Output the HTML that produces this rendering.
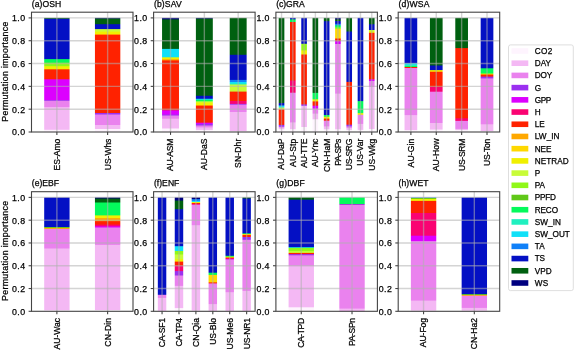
<!DOCTYPE html>
<html><head><meta charset="utf-8"><title>Permutation importance</title>
<style>
html,body{margin:0;padding:0;background:#fff;}
body{width:575px;height:350px;overflow:hidden;}
svg{display:block;will-change:transform;}
.t{font-family:"Liberation Sans", sans-serif;font-size:8.8px;fill:#000;stroke:#000;stroke-width:0.25px;}
</style></head><body>
<svg width="575" height="350" viewBox="0 0 575 350">
<defs><linearGradient id="g0_0_0" gradientUnits="userSpaceOnUse" x1="0" y1="17.9" x2="0" y2="132"><stop offset="0.0000" stop-color="#006010"/><stop offset="0.0035" stop-color="#006010"/><stop offset="0.0123" stop-color="#0410c4"/><stop offset="0.3567" stop-color="#0410c4"/><stop offset="0.3655" stop-color="#04fa5c"/><stop offset="0.3883" stop-color="#04fa5c"/><stop offset="0.3970" stop-color="#90f818"/><stop offset="0.4189" stop-color="#90f818"/><stop offset="0.4277" stop-color="#f0f000"/><stop offset="0.4461" stop-color="#f0f000"/><stop offset="0.4549" stop-color="#ff2200"/><stop offset="0.5337" stop-color="#ff2200"/><stop offset="0.5425" stop-color="#dc00ff"/><stop offset="0.7152" stop-color="#dc00ff"/><stop offset="0.7222" stop-color="#9b30f0"/><stop offset="0.7222" stop-color="#9b30f0"/><stop offset="0.7292" stop-color="#ea82ee"/><stop offset="0.7774" stop-color="#ea82ee"/><stop offset="0.7862" stop-color="#f4b8f4"/><stop offset="0.9763" stop-color="#f4b8f4"/><stop offset="0.9851" stop-color="#fef4fe"/><stop offset="1.0000" stop-color="#fef4fe"/></linearGradient>
<linearGradient id="g0_0_1" gradientUnits="userSpaceOnUse" x1="0" y1="17.9" x2="0" y2="132"><stop offset="0.0000" stop-color="#000080"/><stop offset="0.0009" stop-color="#000080"/><stop offset="0.0096" stop-color="#006010"/><stop offset="0.0508" stop-color="#006010"/><stop offset="0.0596" stop-color="#0410c4"/><stop offset="0.0938" stop-color="#0410c4"/><stop offset="0.1025" stop-color="#c8fc38"/><stop offset="0.1157" stop-color="#c8fc38"/><stop offset="0.1245" stop-color="#f0f000"/><stop offset="0.1367" stop-color="#f0f000"/><stop offset="0.1446" stop-color="#ffa800"/><stop offset="0.1446" stop-color="#ffa800"/><stop offset="0.1525" stop-color="#ff2200"/><stop offset="0.8291" stop-color="#ff2200"/><stop offset="0.8379" stop-color="#9b30f0"/><stop offset="0.8422" stop-color="#9b30f0"/><stop offset="0.8510" stop-color="#ea82ee"/><stop offset="0.9343" stop-color="#ea82ee"/><stop offset="0.9430" stop-color="#f4b8f4"/><stop offset="0.9693" stop-color="#f4b8f4"/><stop offset="0.9781" stop-color="#fef4fe"/><stop offset="1.0000" stop-color="#fef4fe"/></linearGradient>
<linearGradient id="g0_1_0" gradientUnits="userSpaceOnUse" x1="0" y1="17.9" x2="0" y2="132"><stop offset="0.0000" stop-color="#000080"/><stop offset="0.0088" stop-color="#000080"/><stop offset="0.0175" stop-color="#006010"/><stop offset="0.2673" stop-color="#006010"/><stop offset="0.2761" stop-color="#10e0f8"/><stop offset="0.3409" stop-color="#10e0f8"/><stop offset="0.3497" stop-color="#f0f000"/><stop offset="0.3576" stop-color="#f0f000"/><stop offset="0.3663" stop-color="#ffa800"/><stop offset="0.3681" stop-color="#ffa800"/><stop offset="0.3769" stop-color="#ff2200"/><stop offset="0.8054" stop-color="#ff2200"/><stop offset="0.8142" stop-color="#dc00ff"/><stop offset="0.8431" stop-color="#dc00ff"/><stop offset="0.8514" stop-color="#9b30f0"/><stop offset="0.8514" stop-color="#9b30f0"/><stop offset="0.8598" stop-color="#ea82ee"/><stop offset="0.8791" stop-color="#ea82ee"/><stop offset="0.8878" stop-color="#f4b8f4"/><stop offset="0.9649" stop-color="#f4b8f4"/><stop offset="0.9737" stop-color="#fef4fe"/><stop offset="1.0000" stop-color="#fef4fe"/></linearGradient>
<linearGradient id="g0_1_1" gradientUnits="userSpaceOnUse" x1="0" y1="17.9" x2="0" y2="132"><stop offset="0.0000" stop-color="#000080"/><stop offset="0.0018" stop-color="#000080"/><stop offset="0.0105" stop-color="#006010"/><stop offset="0.6784" stop-color="#006010"/><stop offset="0.6871" stop-color="#0410c4"/><stop offset="0.7046" stop-color="#0410c4"/><stop offset="0.7130" stop-color="#10e0f8"/><stop offset="0.7130" stop-color="#10e0f8"/><stop offset="0.7213" stop-color="#04fa5c"/><stop offset="0.7266" stop-color="#04fa5c"/><stop offset="0.7353" stop-color="#c8fc38"/><stop offset="0.7371" stop-color="#c8fc38"/><stop offset="0.7458" stop-color="#f0f000"/><stop offset="0.7599" stop-color="#f0f000"/><stop offset="0.7664" stop-color="#ffa800"/><stop offset="0.7664" stop-color="#ffa800"/><stop offset="0.7730" stop-color="#ff2200"/><stop offset="0.9141" stop-color="#ff2200"/><stop offset="0.9229" stop-color="#dc00ff"/><stop offset="0.9246" stop-color="#dc00ff"/><stop offset="0.9334" stop-color="#9b30f0"/><stop offset="0.9387" stop-color="#9b30f0"/><stop offset="0.9474" stop-color="#ea82ee"/><stop offset="0.9553" stop-color="#ea82ee"/><stop offset="0.9641" stop-color="#f4b8f4"/><stop offset="0.9772" stop-color="#f4b8f4"/><stop offset="0.9860" stop-color="#fef4fe"/><stop offset="1.0000" stop-color="#fef4fe"/></linearGradient>
<linearGradient id="g0_1_2" gradientUnits="userSpaceOnUse" x1="0" y1="17.9" x2="0" y2="132"><stop offset="0.0000" stop-color="#006010"/><stop offset="0.3190" stop-color="#006010"/><stop offset="0.3278" stop-color="#0410c4"/><stop offset="0.5390" stop-color="#0410c4"/><stop offset="0.5478" stop-color="#1080f8"/><stop offset="0.5574" stop-color="#1080f8"/><stop offset="0.5662" stop-color="#10e0f8"/><stop offset="0.5706" stop-color="#10e0f8"/><stop offset="0.5793" stop-color="#20f0c0"/><stop offset="0.5793" stop-color="#20f0c0"/><stop offset="0.5881" stop-color="#c8fc38"/><stop offset="0.6415" stop-color="#c8fc38"/><stop offset="0.6503" stop-color="#ff2200"/><stop offset="0.7239" stop-color="#ff2200"/><stop offset="0.7327" stop-color="#fa0372"/><stop offset="0.7493" stop-color="#fa0372"/><stop offset="0.7564" stop-color="#9b30f0"/><stop offset="0.7564" stop-color="#9b30f0"/><stop offset="0.7634" stop-color="#ea82ee"/><stop offset="0.8203" stop-color="#ea82ee"/><stop offset="0.8291" stop-color="#f4b8f4"/><stop offset="0.9869" stop-color="#f4b8f4"/><stop offset="0.9956" stop-color="#fef4fe"/><stop offset="1.0000" stop-color="#fef4fe"/></linearGradient>
<linearGradient id="g0_2_0" gradientUnits="userSpaceOnUse" x1="0" y1="17.9" x2="0" y2="132"><stop offset="0.0000" stop-color="#006010"/><stop offset="0.7423" stop-color="#006010"/><stop offset="0.7511" stop-color="#0410c4"/><stop offset="0.7634" stop-color="#0410c4"/><stop offset="0.7721" stop-color="#10e0f8"/><stop offset="0.7809" stop-color="#10e0f8"/><stop offset="0.7897" stop-color="#c8fc38"/><stop offset="0.7967" stop-color="#c8fc38"/><stop offset="0.8054" stop-color="#ff2200"/><stop offset="0.9334" stop-color="#ff2200"/><stop offset="0.9422" stop-color="#9b30f0"/><stop offset="0.9492" stop-color="#9b30f0"/><stop offset="0.9575" stop-color="#ea82ee"/><stop offset="0.9575" stop-color="#ea82ee"/><stop offset="0.9658" stop-color="#f4b8f4"/><stop offset="0.9711" stop-color="#f4b8f4"/><stop offset="0.9798" stop-color="#fef4fe"/><stop offset="1.0000" stop-color="#fef4fe"/></linearGradient>
<linearGradient id="g0_2_1" gradientUnits="userSpaceOnUse" x1="0" y1="17.9" x2="0" y2="132"><stop offset="0.0000" stop-color="#0410c4"/><stop offset="0.0088" stop-color="#0410c4"/><stop offset="0.0175" stop-color="#04fa5c"/><stop offset="0.0316" stop-color="#04fa5c"/><stop offset="0.0403" stop-color="#ff2200"/><stop offset="0.5443" stop-color="#ff2200"/><stop offset="0.5530" stop-color="#fa0372"/><stop offset="0.6512" stop-color="#fa0372"/><stop offset="0.6599" stop-color="#ea82ee"/><stop offset="0.9115" stop-color="#ea82ee"/><stop offset="0.9202" stop-color="#f4b8f4"/><stop offset="0.9711" stop-color="#f4b8f4"/><stop offset="0.9798" stop-color="#fef4fe"/><stop offset="1.0000" stop-color="#fef4fe"/></linearGradient>
<linearGradient id="g0_2_2" gradientUnits="userSpaceOnUse" x1="0" y1="17.9" x2="0" y2="132"><stop offset="0.0000" stop-color="#0410c4"/><stop offset="0.2226" stop-color="#0410c4"/><stop offset="0.2314" stop-color="#90f818"/><stop offset="0.2805" stop-color="#90f818"/><stop offset="0.2892" stop-color="#f0f000"/><stop offset="0.3164" stop-color="#f0f000"/><stop offset="0.3252" stop-color="#ff2200"/><stop offset="0.7537" stop-color="#ff2200"/><stop offset="0.7625" stop-color="#9b30f0"/><stop offset="0.7660" stop-color="#9b30f0"/><stop offset="0.7748" stop-color="#f4b8f4"/><stop offset="0.9518" stop-color="#f4b8f4"/><stop offset="0.9606" stop-color="#fef4fe"/><stop offset="1.0000" stop-color="#fef4fe"/></linearGradient>
<linearGradient id="g0_2_3" gradientUnits="userSpaceOnUse" x1="0" y1="17.9" x2="0" y2="132"><stop offset="0.0000" stop-color="#006010"/><stop offset="0.6529" stop-color="#006010"/><stop offset="0.6617" stop-color="#04fa5c"/><stop offset="0.7090" stop-color="#04fa5c"/><stop offset="0.7178" stop-color="#f0f000"/><stop offset="0.7274" stop-color="#f0f000"/><stop offset="0.7362" stop-color="#ff2200"/><stop offset="0.7651" stop-color="#ff2200"/><stop offset="0.7739" stop-color="#dc00ff"/><stop offset="0.7905" stop-color="#dc00ff"/><stop offset="0.7993" stop-color="#ea82ee"/><stop offset="0.8344" stop-color="#ea82ee"/><stop offset="0.8431" stop-color="#f4b8f4"/><stop offset="0.8843" stop-color="#f4b8f4"/><stop offset="0.8931" stop-color="#fef4fe"/><stop offset="1.0000" stop-color="#fef4fe"/></linearGradient>
<linearGradient id="g0_2_4" gradientUnits="userSpaceOnUse" x1="0" y1="17.9" x2="0" y2="132"><stop offset="0.0000" stop-color="#006010"/><stop offset="0.0245" stop-color="#006010"/><stop offset="0.0333" stop-color="#0410c4"/><stop offset="0.8466" stop-color="#0410c4"/><stop offset="0.8554" stop-color="#04fa5c"/><stop offset="0.8615" stop-color="#04fa5c"/><stop offset="0.8703" stop-color="#f0f000"/><stop offset="0.8782" stop-color="#f0f000"/><stop offset="0.8869" stop-color="#ff2200"/><stop offset="0.8966" stop-color="#ff2200"/><stop offset="0.9053" stop-color="#ea82ee"/><stop offset="0.9465" stop-color="#ea82ee"/><stop offset="0.9553" stop-color="#f4b8f4"/><stop offset="0.9720" stop-color="#f4b8f4"/><stop offset="0.9807" stop-color="#fef4fe"/><stop offset="1.0000" stop-color="#fef4fe"/></linearGradient>
<linearGradient id="g0_2_5" gradientUnits="userSpaceOnUse" x1="0" y1="17.9" x2="0" y2="132"><stop offset="0.0000" stop-color="#000080"/><stop offset="0.0088" stop-color="#000080"/><stop offset="0.0175" stop-color="#006010"/><stop offset="0.0228" stop-color="#006010"/><stop offset="0.0316" stop-color="#0410c4"/><stop offset="0.0473" stop-color="#0410c4"/><stop offset="0.0561" stop-color="#1080f8"/><stop offset="0.0605" stop-color="#1080f8"/><stop offset="0.0692" stop-color="#04fa5c"/><stop offset="0.0789" stop-color="#04fa5c"/><stop offset="0.0876" stop-color="#90f818"/><stop offset="0.0929" stop-color="#90f818"/><stop offset="0.1017" stop-color="#ffd800"/><stop offset="0.1762" stop-color="#ffd800"/><stop offset="0.1849" stop-color="#ff2200"/><stop offset="0.1989" stop-color="#ff2200"/><stop offset="0.2077" stop-color="#dc00ff"/><stop offset="0.2244" stop-color="#dc00ff"/><stop offset="0.2331" stop-color="#ea82ee"/><stop offset="0.6591" stop-color="#ea82ee"/><stop offset="0.6678" stop-color="#f4b8f4"/><stop offset="0.9720" stop-color="#f4b8f4"/><stop offset="0.9807" stop-color="#fef4fe"/><stop offset="1.0000" stop-color="#fef4fe"/></linearGradient>
<linearGradient id="g0_2_6" gradientUnits="userSpaceOnUse" x1="0" y1="17.9" x2="0" y2="132"><stop offset="0.0000" stop-color="#006010"/><stop offset="0.1148" stop-color="#006010"/><stop offset="0.1236" stop-color="#0410c4"/><stop offset="0.5565" stop-color="#0410c4"/><stop offset="0.5653" stop-color="#ff2200"/><stop offset="0.9316" stop-color="#ff2200"/><stop offset="0.9404" stop-color="#9b30f0"/><stop offset="0.9465" stop-color="#9b30f0"/><stop offset="0.9553" stop-color="#ea82ee"/><stop offset="0.9606" stop-color="#ea82ee"/><stop offset="0.9693" stop-color="#f4b8f4"/><stop offset="0.9772" stop-color="#f4b8f4"/><stop offset="0.9860" stop-color="#fef4fe"/><stop offset="1.0000" stop-color="#fef4fe"/></linearGradient>
<linearGradient id="g0_2_7" gradientUnits="userSpaceOnUse" x1="0" y1="17.9" x2="0" y2="132"><stop offset="0.0000" stop-color="#0410c4"/><stop offset="0.7248" stop-color="#0410c4"/><stop offset="0.7336" stop-color="#04fa5c"/><stop offset="0.8300" stop-color="#04fa5c"/><stop offset="0.8387" stop-color="#f0f000"/><stop offset="0.8449" stop-color="#f0f000"/><stop offset="0.8536" stop-color="#ea82ee"/><stop offset="0.9246" stop-color="#ea82ee"/><stop offset="0.9334" stop-color="#f4b8f4"/><stop offset="0.9772" stop-color="#f4b8f4"/><stop offset="0.9860" stop-color="#fef4fe"/><stop offset="1.0000" stop-color="#fef4fe"/></linearGradient>
<linearGradient id="g0_2_8" gradientUnits="userSpaceOnUse" x1="0" y1="17.9" x2="0" y2="132"><stop offset="0.0000" stop-color="#006010"/><stop offset="0.0517" stop-color="#006010"/><stop offset="0.0605" stop-color="#0410c4"/><stop offset="0.1017" stop-color="#0410c4"/><stop offset="0.1104" stop-color="#c8fc38"/><stop offset="0.1139" stop-color="#c8fc38"/><stop offset="0.1227" stop-color="#f0f000"/><stop offset="0.1262" stop-color="#f0f000"/><stop offset="0.1350" stop-color="#ff2200"/><stop offset="0.5337" stop-color="#ff2200"/><stop offset="0.5425" stop-color="#dc00ff"/><stop offset="0.5486" stop-color="#dc00ff"/><stop offset="0.5574" stop-color="#ea82ee"/><stop offset="0.6012" stop-color="#ea82ee"/><stop offset="0.6100" stop-color="#f4b8f4"/><stop offset="0.9693" stop-color="#f4b8f4"/><stop offset="0.9781" stop-color="#fef4fe"/><stop offset="1.0000" stop-color="#fef4fe"/></linearGradient>
<linearGradient id="g0_3_0" gradientUnits="userSpaceOnUse" x1="0" y1="17.9" x2="0" y2="132"><stop offset="0.0000" stop-color="#0410c4"/><stop offset="0.3926" stop-color="#0410c4"/><stop offset="0.4014" stop-color="#10e0f8"/><stop offset="0.4067" stop-color="#10e0f8"/><stop offset="0.4154" stop-color="#20f0c0"/><stop offset="0.4172" stop-color="#20f0c0"/><stop offset="0.4259" stop-color="#04fa5c"/><stop offset="0.4259" stop-color="#04fa5c"/><stop offset="0.4347" stop-color="#ff2200"/><stop offset="0.4347" stop-color="#ff2200"/><stop offset="0.4435" stop-color="#ea82ee"/><stop offset="0.8475" stop-color="#ea82ee"/><stop offset="0.8563" stop-color="#f4b8f4"/><stop offset="0.9790" stop-color="#f4b8f4"/><stop offset="0.9877" stop-color="#fef4fe"/><stop offset="1.0000" stop-color="#fef4fe"/></linearGradient>
<linearGradient id="g0_3_1" gradientUnits="userSpaceOnUse" x1="0" y1="17.9" x2="0" y2="132"><stop offset="0.0000" stop-color="#006010"/><stop offset="0.4128" stop-color="#006010"/><stop offset="0.4216" stop-color="#0410c4"/><stop offset="0.4531" stop-color="#0410c4"/><stop offset="0.4619" stop-color="#f0f000"/><stop offset="0.4636" stop-color="#f0f000"/><stop offset="0.4711" stop-color="#ffa800"/><stop offset="0.4711" stop-color="#ffa800"/><stop offset="0.4785" stop-color="#ff2200"/><stop offset="0.6004" stop-color="#ff2200"/><stop offset="0.6091" stop-color="#fa0372"/><stop offset="0.6424" stop-color="#fa0372"/><stop offset="0.6512" stop-color="#ea82ee"/><stop offset="0.9167" stop-color="#ea82ee"/><stop offset="0.9255" stop-color="#f4b8f4"/><stop offset="0.9746" stop-color="#f4b8f4"/><stop offset="0.9833" stop-color="#fef4fe"/><stop offset="1.0000" stop-color="#fef4fe"/></linearGradient>
<linearGradient id="g0_3_2" gradientUnits="userSpaceOnUse" x1="0" y1="17.9" x2="0" y2="132"><stop offset="0.0000" stop-color="#006010"/><stop offset="0.2603" stop-color="#006010"/><stop offset="0.2691" stop-color="#ff2200"/><stop offset="0.8755" stop-color="#ff2200"/><stop offset="0.8843" stop-color="#fa0372"/><stop offset="0.8983" stop-color="#fa0372"/><stop offset="0.9071" stop-color="#ea82ee"/><stop offset="0.9684" stop-color="#ea82ee"/><stop offset="0.9772" stop-color="#f4b8f4"/><stop offset="0.9781" stop-color="#f4b8f4"/><stop offset="0.9869" stop-color="#fef4fe"/><stop offset="1.0000" stop-color="#fef4fe"/></linearGradient>
<linearGradient id="g0_3_3" gradientUnits="userSpaceOnUse" x1="0" y1="17.9" x2="0" y2="132"><stop offset="0.0000" stop-color="#0410c4"/><stop offset="0.4373" stop-color="#0410c4"/><stop offset="0.4461" stop-color="#04fa5c"/><stop offset="0.4838" stop-color="#04fa5c"/><stop offset="0.4921" stop-color="#f0f000"/><stop offset="0.4921" stop-color="#f0f000"/><stop offset="0.5004" stop-color="#ff2200"/><stop offset="0.5101" stop-color="#ff2200"/><stop offset="0.5188" stop-color="#9b30f0"/><stop offset="0.5259" stop-color="#9b30f0"/><stop offset="0.5346" stop-color="#ea82ee"/><stop offset="0.9281" stop-color="#ea82ee"/><stop offset="0.9369" stop-color="#f4b8f4"/><stop offset="0.9869" stop-color="#f4b8f4"/><stop offset="0.9956" stop-color="#fef4fe"/><stop offset="1.0000" stop-color="#fef4fe"/></linearGradient>
<linearGradient id="g1_0_0" gradientUnits="userSpaceOnUse" x1="0" y1="197.4" x2="0" y2="311.3"><stop offset="0.0000" stop-color="#0410c4"/><stop offset="0.2555" stop-color="#0410c4"/><stop offset="0.2638" stop-color="#60c818"/><stop offset="0.2638" stop-color="#60c818"/><stop offset="0.2722" stop-color="#ffa800"/><stop offset="0.2722" stop-color="#ffa800"/><stop offset="0.2809" stop-color="#ea82ee"/><stop offset="0.4442" stop-color="#ea82ee"/><stop offset="0.4530" stop-color="#f4b8f4"/><stop offset="0.9860" stop-color="#f4b8f4"/><stop offset="0.9947" stop-color="#fef4fe"/><stop offset="1.0000" stop-color="#fef4fe"/></linearGradient>
<linearGradient id="g1_0_1" gradientUnits="userSpaceOnUse" x1="0" y1="197.4" x2="0" y2="311.3"><stop offset="0.0000" stop-color="#000080"/><stop offset="0.0053" stop-color="#000080"/><stop offset="0.0140" stop-color="#006010"/><stop offset="0.0404" stop-color="#006010"/><stop offset="0.0492" stop-color="#04fa5c"/><stop offset="0.1536" stop-color="#04fa5c"/><stop offset="0.1624" stop-color="#f0f000"/><stop offset="0.1773" stop-color="#f0f000"/><stop offset="0.1861" stop-color="#ffa800"/><stop offset="0.2046" stop-color="#ffa800"/><stop offset="0.2133" stop-color="#ff2200"/><stop offset="0.2344" stop-color="#ff2200"/><stop offset="0.2432" stop-color="#fa0372"/><stop offset="0.2493" stop-color="#fa0372"/><stop offset="0.2581" stop-color="#dc00ff"/><stop offset="0.2599" stop-color="#dc00ff"/><stop offset="0.2687" stop-color="#ea82ee"/><stop offset="0.4126" stop-color="#ea82ee"/><stop offset="0.4214" stop-color="#f4b8f4"/><stop offset="0.9842" stop-color="#f4b8f4"/><stop offset="0.9930" stop-color="#fef4fe"/><stop offset="1.0000" stop-color="#fef4fe"/></linearGradient>
<linearGradient id="g1_1_0" gradientUnits="userSpaceOnUse" x1="0" y1="197.4" x2="0" y2="311.3"><stop offset="0.0000" stop-color="#0410c4"/><stop offset="0.8507" stop-color="#0410c4"/><stop offset="0.8595" stop-color="#ea82ee"/><stop offset="0.8780" stop-color="#ea82ee"/><stop offset="0.8867" stop-color="#f4b8f4"/><stop offset="0.9912" stop-color="#f4b8f4"/><stop offset="1.0000" stop-color="#fef4fe"/><stop offset="1.0000" stop-color="#fef4fe"/></linearGradient>
<linearGradient id="g1_1_1" gradientUnits="userSpaceOnUse" x1="0" y1="197.4" x2="0" y2="311.3"><stop offset="0.0000" stop-color="#000080"/><stop offset="0.0237" stop-color="#000080"/><stop offset="0.0325" stop-color="#006010"/><stop offset="0.0992" stop-color="#006010"/><stop offset="0.1080" stop-color="#0410c4"/><stop offset="0.4241" stop-color="#0410c4"/><stop offset="0.4328" stop-color="#10e0f8"/><stop offset="0.4662" stop-color="#10e0f8"/><stop offset="0.4750" stop-color="#90f818"/><stop offset="0.4969" stop-color="#90f818"/><stop offset="0.5057" stop-color="#c8fc38"/><stop offset="0.5391" stop-color="#c8fc38"/><stop offset="0.5478" stop-color="#f0f000"/><stop offset="0.5593" stop-color="#f0f000"/><stop offset="0.5680" stop-color="#ff2200"/><stop offset="0.5979" stop-color="#ff2200"/><stop offset="0.6067" stop-color="#fa0372"/><stop offset="0.6427" stop-color="#fa0372"/><stop offset="0.6514" stop-color="#9b30f0"/><stop offset="0.6813" stop-color="#9b30f0"/><stop offset="0.6901" stop-color="#ea82ee"/><stop offset="0.7726" stop-color="#ea82ee"/><stop offset="0.7814" stop-color="#f4b8f4"/><stop offset="0.9675" stop-color="#f4b8f4"/><stop offset="0.9763" stop-color="#fef4fe"/><stop offset="1.0000" stop-color="#fef4fe"/></linearGradient>
<linearGradient id="g1_1_2" gradientUnits="userSpaceOnUse" x1="0" y1="197.4" x2="0" y2="311.3"><stop offset="0.0000" stop-color="#000080"/><stop offset="0.0105" stop-color="#000080"/><stop offset="0.0193" stop-color="#1080f8"/><stop offset="0.0263" stop-color="#1080f8"/><stop offset="0.0351" stop-color="#10e0f8"/><stop offset="0.0360" stop-color="#10e0f8"/><stop offset="0.0448" stop-color="#f0f000"/><stop offset="0.0448" stop-color="#f0f000"/><stop offset="0.0531" stop-color="#ff2200"/><stop offset="0.0531" stop-color="#ff2200"/><stop offset="0.0601" stop-color="#fa0372"/><stop offset="0.0601" stop-color="#fa0372"/><stop offset="0.0676" stop-color="#ea82ee"/><stop offset="0.2397" stop-color="#ea82ee"/><stop offset="0.2485" stop-color="#f4b8f4"/><stop offset="0.9886" stop-color="#f4b8f4"/><stop offset="0.9974" stop-color="#fef4fe"/><stop offset="1.0000" stop-color="#fef4fe"/></linearGradient>
<linearGradient id="g1_1_3" gradientUnits="userSpaceOnUse" x1="0" y1="197.4" x2="0" y2="311.3"><stop offset="0.0000" stop-color="#0410c4"/><stop offset="0.6567" stop-color="#0410c4"/><stop offset="0.6655" stop-color="#04fa5c"/><stop offset="0.6760" stop-color="#04fa5c"/><stop offset="0.6848" stop-color="#ffd800"/><stop offset="0.7419" stop-color="#ffd800"/><stop offset="0.7507" stop-color="#ff2200"/><stop offset="0.7507" stop-color="#ff2200"/><stop offset="0.7594" stop-color="#ea82ee"/><stop offset="0.9324" stop-color="#ea82ee"/><stop offset="0.9412" stop-color="#f4b8f4"/><stop offset="0.9912" stop-color="#f4b8f4"/><stop offset="1.0000" stop-color="#fef4fe"/><stop offset="1.0000" stop-color="#fef4fe"/></linearGradient>
<linearGradient id="g1_1_4" gradientUnits="userSpaceOnUse" x1="0" y1="197.4" x2="0" y2="311.3"><stop offset="0.0000" stop-color="#0410c4"/><stop offset="0.5083" stop-color="#0410c4"/><stop offset="0.5167" stop-color="#04fa5c"/><stop offset="0.5167" stop-color="#04fa5c"/><stop offset="0.5241" stop-color="#f0f000"/><stop offset="0.5241" stop-color="#f0f000"/><stop offset="0.5320" stop-color="#ff2200"/><stop offset="0.5338" stop-color="#ff2200"/><stop offset="0.5413" stop-color="#dc00ff"/><stop offset="0.5413" stop-color="#dc00ff"/><stop offset="0.5487" stop-color="#ea82ee"/><stop offset="0.8279" stop-color="#ea82ee"/><stop offset="0.8367" stop-color="#f4b8f4"/><stop offset="0.9912" stop-color="#f4b8f4"/><stop offset="1.0000" stop-color="#fef4fe"/><stop offset="1.0000" stop-color="#fef4fe"/></linearGradient>
<linearGradient id="g1_1_5" gradientUnits="userSpaceOnUse" x1="0" y1="197.4" x2="0" y2="311.3"><stop offset="0.0000" stop-color="#006010"/><stop offset="0.0053" stop-color="#006010"/><stop offset="0.0140" stop-color="#0410c4"/><stop offset="0.3126" stop-color="#0410c4"/><stop offset="0.3191" stop-color="#04fa5c"/><stop offset="0.3191" stop-color="#04fa5c"/><stop offset="0.3248" stop-color="#f0f000"/><stop offset="0.3248" stop-color="#f0f000"/><stop offset="0.3327" stop-color="#ff2200"/><stop offset="0.3433" stop-color="#ff2200"/><stop offset="0.3521" stop-color="#9b30f0"/><stop offset="0.3679" stop-color="#9b30f0"/><stop offset="0.3766" stop-color="#ea82ee"/><stop offset="0.8165" stop-color="#ea82ee"/><stop offset="0.8253" stop-color="#f4b8f4"/><stop offset="0.9912" stop-color="#f4b8f4"/><stop offset="1.0000" stop-color="#fef4fe"/><stop offset="1.0000" stop-color="#fef4fe"/></linearGradient>
<linearGradient id="g1_2_0" gradientUnits="userSpaceOnUse" x1="0" y1="197.4" x2="0" y2="311.3"><stop offset="0.0000" stop-color="#006010"/><stop offset="0.0158" stop-color="#006010"/><stop offset="0.0246" stop-color="#0410c4"/><stop offset="0.4337" stop-color="#0410c4"/><stop offset="0.4412" stop-color="#20f0c0"/><stop offset="0.4412" stop-color="#20f0c0"/><stop offset="0.4486" stop-color="#90f818"/><stop offset="0.4671" stop-color="#90f818"/><stop offset="0.4759" stop-color="#c8fc38"/><stop offset="0.4829" stop-color="#c8fc38"/><stop offset="0.4917" stop-color="#ff2200"/><stop offset="0.4934" stop-color="#ff2200"/><stop offset="0.5022" stop-color="#9b30f0"/><stop offset="0.5040" stop-color="#9b30f0"/><stop offset="0.5127" stop-color="#ea82ee"/><stop offset="0.5953" stop-color="#ea82ee"/><stop offset="0.6040" stop-color="#f4b8f4"/><stop offset="0.9605" stop-color="#f4b8f4"/><stop offset="0.9693" stop-color="#fef4fe"/><stop offset="1.0000" stop-color="#fef4fe"/></linearGradient>
<linearGradient id="g1_2_1" gradientUnits="userSpaceOnUse" x1="0" y1="197.4" x2="0" y2="311.3"><stop offset="0.0000" stop-color="#04fa5c"/><stop offset="0.0571" stop-color="#04fa5c"/><stop offset="0.0641" stop-color="#dc00ff"/><stop offset="0.0641" stop-color="#dc00ff"/><stop offset="0.0711" stop-color="#ea82ee"/><stop offset="0.9719" stop-color="#ea82ee"/><stop offset="0.9807" stop-color="#f4b8f4"/><stop offset="1.0000" stop-color="#f4b8f4"/></linearGradient>
<linearGradient id="g1_3_0" gradientUnits="userSpaceOnUse" x1="0" y1="197.4" x2="0" y2="311.3"><stop offset="0.0000" stop-color="#1080f8"/><stop offset="0.0000" stop-color="#1080f8"/><stop offset="0.0088" stop-color="#60c818"/><stop offset="0.0088" stop-color="#60c818"/><stop offset="0.0176" stop-color="#f0f000"/><stop offset="0.0263" stop-color="#f0f000"/><stop offset="0.0351" stop-color="#ff2200"/><stop offset="0.1326" stop-color="#ff2200"/><stop offset="0.1414" stop-color="#fa0372"/><stop offset="0.3319" stop-color="#fa0372"/><stop offset="0.3406" stop-color="#dc00ff"/><stop offset="0.3793" stop-color="#dc00ff"/><stop offset="0.3881" stop-color="#ea82ee"/><stop offset="0.9017" stop-color="#ea82ee"/><stop offset="0.9104" stop-color="#f4b8f4"/><stop offset="0.9886" stop-color="#f4b8f4"/><stop offset="0.9974" stop-color="#fef4fe"/><stop offset="1.0000" stop-color="#fef4fe"/></linearGradient>
<linearGradient id="g1_3_1" gradientUnits="userSpaceOnUse" x1="0" y1="197.4" x2="0" y2="311.3"><stop offset="0.0000" stop-color="#0410c4"/><stop offset="0.8455" stop-color="#0410c4"/><stop offset="0.8534" stop-color="#60c818"/><stop offset="0.8534" stop-color="#60c818"/><stop offset="0.8595" stop-color="#ffa800"/><stop offset="0.8595" stop-color="#ffa800"/><stop offset="0.8665" stop-color="#ea82ee"/><stop offset="0.9658" stop-color="#ea82ee"/><stop offset="0.9745" stop-color="#f4b8f4"/><stop offset="0.9886" stop-color="#f4b8f4"/><stop offset="0.9974" stop-color="#fef4fe"/><stop offset="1.0000" stop-color="#fef4fe"/></linearGradient></defs>
<rect width="575" height="350" fill="#fff"/>
<rect x="44.19" y="17.9" width="25.38" height="114.1" fill="url(#g0_0_0)"/>
<rect x="94.94" y="17.9" width="25.38" height="114.1" fill="url(#g0_0_1)"/>
<line x1="31.5" y1="109.18" x2="133" y2="109.18" stroke="#b0b0b0" stroke-width="1.4" stroke-opacity="0.55"/>
<line x1="31.5" y1="86.36" x2="133" y2="86.36" stroke="#b0b0b0" stroke-width="1.4" stroke-opacity="0.55"/>
<line x1="31.5" y1="63.54" x2="133" y2="63.54" stroke="#b0b0b0" stroke-width="1.4" stroke-opacity="0.55"/>
<line x1="31.5" y1="40.72" x2="133" y2="40.72" stroke="#b0b0b0" stroke-width="1.4" stroke-opacity="0.55"/>
<line x1="31.5" y1="17.9" x2="133" y2="17.9" stroke="#b0b0b0" stroke-width="1.4" stroke-opacity="0.55"/>
<line x1="56.88" y1="12.2" x2="56.88" y2="132" stroke="#b0b0b0" stroke-width="1.4" stroke-opacity="0.55"/>
<line x1="107.62" y1="12.2" x2="107.62" y2="132" stroke="#b0b0b0" stroke-width="1.4" stroke-opacity="0.55"/>
<rect x="31.5" y="12.2" width="101.5" height="119.8" fill="none" stroke="#444444" stroke-width="1.1"/>
<line x1="28.6" y1="132" x2="31.5" y2="132" stroke="#444444" stroke-width="1.1"/>
<text x="25.1" y="135.4" text-anchor="end" class="t" textLength="13.12" lengthAdjust="spacing">0.0</text>
<line x1="28.6" y1="109.18" x2="31.5" y2="109.18" stroke="#444444" stroke-width="1.1"/>
<text x="25.1" y="112.58" text-anchor="end" class="t" textLength="13.12" lengthAdjust="spacing">0.2</text>
<line x1="28.6" y1="86.36" x2="31.5" y2="86.36" stroke="#444444" stroke-width="1.1"/>
<text x="25.1" y="89.76" text-anchor="end" class="t" textLength="13.12" lengthAdjust="spacing">0.4</text>
<line x1="28.6" y1="63.54" x2="31.5" y2="63.54" stroke="#444444" stroke-width="1.1"/>
<text x="25.1" y="66.94" text-anchor="end" class="t" textLength="13.12" lengthAdjust="spacing">0.6</text>
<line x1="28.6" y1="40.72" x2="31.5" y2="40.72" stroke="#444444" stroke-width="1.1"/>
<text x="25.1" y="44.12" text-anchor="end" class="t" textLength="13.12" lengthAdjust="spacing">0.8</text>
<line x1="28.6" y1="17.9" x2="31.5" y2="17.9" stroke="#444444" stroke-width="1.1"/>
<text x="25.1" y="21.3" text-anchor="end" class="t" textLength="13.12" lengthAdjust="spacing">1.0</text>
<line x1="56.88" y1="132" x2="56.88" y2="134.9" stroke="#444444" stroke-width="1.1"/>
<text transform="translate(59.77,138.6) rotate(-90)" x="0" y="0" text-anchor="end" class="t" style="font-size:8.6px" textLength="31.97" lengthAdjust="spacing">ES-Amo</text>
<line x1="107.62" y1="132" x2="107.62" y2="134.9" stroke="#444444" stroke-width="1.1"/>
<text transform="translate(110.53,138.6) rotate(-90)" x="0" y="0" text-anchor="end" class="t" style="font-size:8.6px" textLength="31.6" lengthAdjust="spacing">US-Whs</text>
<text x="31.8" y="6.8" class="t" style="font-size:8.6px" textLength="29.43" lengthAdjust="spacing">(a)OSH</text>
<rect x="162.06" y="17.9" width="16.92" height="114.1" fill="url(#g0_1_0)"/>
<rect x="195.89" y="17.9" width="16.92" height="114.1" fill="url(#g0_1_1)"/>
<rect x="229.72" y="17.9" width="16.92" height="114.1" fill="url(#g0_1_2)"/>
<line x1="153.6" y1="109.18" x2="255.1" y2="109.18" stroke="#b0b0b0" stroke-width="1.4" stroke-opacity="0.55"/>
<line x1="153.6" y1="86.36" x2="255.1" y2="86.36" stroke="#b0b0b0" stroke-width="1.4" stroke-opacity="0.55"/>
<line x1="153.6" y1="63.54" x2="255.1" y2="63.54" stroke="#b0b0b0" stroke-width="1.4" stroke-opacity="0.55"/>
<line x1="153.6" y1="40.72" x2="255.1" y2="40.72" stroke="#b0b0b0" stroke-width="1.4" stroke-opacity="0.55"/>
<line x1="153.6" y1="17.9" x2="255.1" y2="17.9" stroke="#b0b0b0" stroke-width="1.4" stroke-opacity="0.55"/>
<line x1="170.52" y1="12.2" x2="170.52" y2="132" stroke="#b0b0b0" stroke-width="1.4" stroke-opacity="0.55"/>
<line x1="204.35" y1="12.2" x2="204.35" y2="132" stroke="#b0b0b0" stroke-width="1.4" stroke-opacity="0.55"/>
<line x1="238.18" y1="12.2" x2="238.18" y2="132" stroke="#b0b0b0" stroke-width="1.4" stroke-opacity="0.55"/>
<rect x="153.6" y="12.2" width="101.5" height="119.8" fill="none" stroke="#444444" stroke-width="1.1"/>
<line x1="150.7" y1="132" x2="153.6" y2="132" stroke="#444444" stroke-width="1.1"/>
<text x="147.2" y="135.4" text-anchor="end" class="t" textLength="13.12" lengthAdjust="spacing">0.0</text>
<line x1="150.7" y1="109.18" x2="153.6" y2="109.18" stroke="#444444" stroke-width="1.1"/>
<text x="147.2" y="112.58" text-anchor="end" class="t" textLength="13.12" lengthAdjust="spacing">0.2</text>
<line x1="150.7" y1="86.36" x2="153.6" y2="86.36" stroke="#444444" stroke-width="1.1"/>
<text x="147.2" y="89.76" text-anchor="end" class="t" textLength="13.12" lengthAdjust="spacing">0.4</text>
<line x1="150.7" y1="63.54" x2="153.6" y2="63.54" stroke="#444444" stroke-width="1.1"/>
<text x="147.2" y="66.94" text-anchor="end" class="t" textLength="13.12" lengthAdjust="spacing">0.6</text>
<line x1="150.7" y1="40.72" x2="153.6" y2="40.72" stroke="#444444" stroke-width="1.1"/>
<text x="147.2" y="44.12" text-anchor="end" class="t" textLength="13.12" lengthAdjust="spacing">0.8</text>
<line x1="150.7" y1="17.9" x2="153.6" y2="17.9" stroke="#444444" stroke-width="1.1"/>
<text x="147.2" y="21.3" text-anchor="end" class="t" textLength="13.12" lengthAdjust="spacing">1.0</text>
<line x1="170.52" y1="132" x2="170.52" y2="134.9" stroke="#444444" stroke-width="1.1"/>
<text transform="translate(173.42,138.6) rotate(-90)" x="0" y="0" text-anchor="end" class="t" style="font-size:8.6px" textLength="32.48" lengthAdjust="spacing">AU-ASM</text>
<line x1="204.35" y1="132" x2="204.35" y2="134.9" stroke="#444444" stroke-width="1.1"/>
<text transform="translate(207.25,138.6) rotate(-90)" x="0" y="0" text-anchor="end" class="t" style="font-size:8.6px" textLength="31.3" lengthAdjust="spacing">AU-DaS</text>
<line x1="238.18" y1="132" x2="238.18" y2="134.9" stroke="#444444" stroke-width="1.1"/>
<text transform="translate(241.08,138.6) rotate(-90)" x="0" y="0" text-anchor="end" class="t" style="font-size:8.6px" textLength="29.36" lengthAdjust="spacing">SN-Dhr</text>
<text x="153.9" y="6.8" class="t" style="font-size:8.6px" textLength="27.82" lengthAdjust="spacing">(b)SAV</text>
<rect x="278.72" y="17.9" width="5.64" height="114.1" fill="url(#g0_2_0)"/>
<rect x="290" y="17.9" width="5.64" height="114.1" fill="url(#g0_2_1)"/>
<rect x="301.27" y="17.9" width="5.64" height="114.1" fill="url(#g0_2_2)"/>
<rect x="312.55" y="17.9" width="5.64" height="114.1" fill="url(#g0_2_3)"/>
<rect x="323.83" y="17.9" width="5.64" height="114.1" fill="url(#g0_2_4)"/>
<rect x="335.11" y="17.9" width="5.64" height="114.1" fill="url(#g0_2_5)"/>
<rect x="346.39" y="17.9" width="5.64" height="114.1" fill="url(#g0_2_6)"/>
<rect x="357.66" y="17.9" width="5.64" height="114.1" fill="url(#g0_2_7)"/>
<rect x="368.94" y="17.9" width="5.64" height="114.1" fill="url(#g0_2_8)"/>
<line x1="275.9" y1="109.18" x2="377.4" y2="109.18" stroke="#b0b0b0" stroke-width="1.4" stroke-opacity="0.55"/>
<line x1="275.9" y1="86.36" x2="377.4" y2="86.36" stroke="#b0b0b0" stroke-width="1.4" stroke-opacity="0.55"/>
<line x1="275.9" y1="63.54" x2="377.4" y2="63.54" stroke="#b0b0b0" stroke-width="1.4" stroke-opacity="0.55"/>
<line x1="275.9" y1="40.72" x2="377.4" y2="40.72" stroke="#b0b0b0" stroke-width="1.4" stroke-opacity="0.55"/>
<line x1="275.9" y1="17.9" x2="377.4" y2="17.9" stroke="#b0b0b0" stroke-width="1.4" stroke-opacity="0.55"/>
<line x1="281.54" y1="12.2" x2="281.54" y2="132" stroke="#b0b0b0" stroke-width="1.4" stroke-opacity="0.55"/>
<line x1="292.82" y1="12.2" x2="292.82" y2="132" stroke="#b0b0b0" stroke-width="1.4" stroke-opacity="0.55"/>
<line x1="304.09" y1="12.2" x2="304.09" y2="132" stroke="#b0b0b0" stroke-width="1.4" stroke-opacity="0.55"/>
<line x1="315.37" y1="12.2" x2="315.37" y2="132" stroke="#b0b0b0" stroke-width="1.4" stroke-opacity="0.55"/>
<line x1="326.65" y1="12.2" x2="326.65" y2="132" stroke="#b0b0b0" stroke-width="1.4" stroke-opacity="0.55"/>
<line x1="337.93" y1="12.2" x2="337.93" y2="132" stroke="#b0b0b0" stroke-width="1.4" stroke-opacity="0.55"/>
<line x1="349.21" y1="12.2" x2="349.21" y2="132" stroke="#b0b0b0" stroke-width="1.4" stroke-opacity="0.55"/>
<line x1="360.48" y1="12.2" x2="360.48" y2="132" stroke="#b0b0b0" stroke-width="1.4" stroke-opacity="0.55"/>
<line x1="371.76" y1="12.2" x2="371.76" y2="132" stroke="#b0b0b0" stroke-width="1.4" stroke-opacity="0.55"/>
<rect x="275.9" y="12.2" width="101.5" height="119.8" fill="none" stroke="#444444" stroke-width="1.1"/>
<line x1="273" y1="132" x2="275.9" y2="132" stroke="#444444" stroke-width="1.1"/>
<text x="269.5" y="135.4" text-anchor="end" class="t" textLength="13.12" lengthAdjust="spacing">0.0</text>
<line x1="273" y1="109.18" x2="275.9" y2="109.18" stroke="#444444" stroke-width="1.1"/>
<text x="269.5" y="112.58" text-anchor="end" class="t" textLength="13.12" lengthAdjust="spacing">0.2</text>
<line x1="273" y1="86.36" x2="275.9" y2="86.36" stroke="#444444" stroke-width="1.1"/>
<text x="269.5" y="89.76" text-anchor="end" class="t" textLength="13.12" lengthAdjust="spacing">0.4</text>
<line x1="273" y1="63.54" x2="275.9" y2="63.54" stroke="#444444" stroke-width="1.1"/>
<text x="269.5" y="66.94" text-anchor="end" class="t" textLength="13.12" lengthAdjust="spacing">0.6</text>
<line x1="273" y1="40.72" x2="275.9" y2="40.72" stroke="#444444" stroke-width="1.1"/>
<text x="269.5" y="44.12" text-anchor="end" class="t" textLength="13.12" lengthAdjust="spacing">0.8</text>
<line x1="273" y1="17.9" x2="275.9" y2="17.9" stroke="#444444" stroke-width="1.1"/>
<text x="269.5" y="21.3" text-anchor="end" class="t" textLength="13.12" lengthAdjust="spacing">1.0</text>
<line x1="281.54" y1="132" x2="281.54" y2="134.9" stroke="#444444" stroke-width="1.1"/>
<text transform="translate(284.44,138.6) rotate(-90)" x="0" y="0" text-anchor="end" class="t" style="font-size:8.6px" textLength="31.04" lengthAdjust="spacing">AU-DaP</text>
<line x1="292.82" y1="132" x2="292.82" y2="134.9" stroke="#444444" stroke-width="1.1"/>
<text transform="translate(295.72,138.6) rotate(-90)" x="0" y="0" text-anchor="end" class="t" style="font-size:8.6px" textLength="28.37" lengthAdjust="spacing">AU-Stp</text>
<line x1="304.09" y1="132" x2="304.09" y2="134.9" stroke="#444444" stroke-width="1.1"/>
<text transform="translate(306.99,138.6) rotate(-90)" x="0" y="0" text-anchor="end" class="t" style="font-size:8.6px" textLength="29.05" lengthAdjust="spacing">AU-TTE</text>
<line x1="315.37" y1="132" x2="315.37" y2="134.9" stroke="#444444" stroke-width="1.1"/>
<text transform="translate(318.27,138.6) rotate(-90)" x="0" y="0" text-anchor="end" class="t" style="font-size:8.6px" textLength="28.48" lengthAdjust="spacing">AU-Ync</text>
<line x1="326.65" y1="132" x2="326.65" y2="134.9" stroke="#444444" stroke-width="1.1"/>
<text transform="translate(329.55,138.6) rotate(-90)" x="0" y="0" text-anchor="end" class="t" style="font-size:8.6px" textLength="33.29" lengthAdjust="spacing">CN-HaM</text>
<line x1="337.93" y1="132" x2="337.93" y2="134.9" stroke="#444444" stroke-width="1.1"/>
<text transform="translate(340.83,138.6) rotate(-90)" x="0" y="0" text-anchor="end" class="t" style="font-size:8.6px" textLength="27.25" lengthAdjust="spacing">PA-SPs</text>
<line x1="349.21" y1="132" x2="349.21" y2="134.9" stroke="#444444" stroke-width="1.1"/>
<text transform="translate(352.11,138.6) rotate(-90)" x="0" y="0" text-anchor="end" class="t" style="font-size:8.6px" textLength="31.61" lengthAdjust="spacing">US-SRG</text>
<line x1="360.48" y1="132" x2="360.48" y2="134.9" stroke="#444444" stroke-width="1.1"/>
<text transform="translate(363.38,138.6) rotate(-90)" x="0" y="0" text-anchor="end" class="t" style="font-size:8.6px" textLength="27.22" lengthAdjust="spacing">US-Var</text>
<line x1="371.76" y1="132" x2="371.76" y2="134.9" stroke="#444444" stroke-width="1.1"/>
<text transform="translate(374.66,138.6) rotate(-90)" x="0" y="0" text-anchor="end" class="t" style="font-size:8.6px" textLength="32.09" lengthAdjust="spacing">US-Wkg</text>
<text x="276.2" y="6.8" class="t" style="font-size:8.6px" textLength="28.41" lengthAdjust="spacing">(c)GRA</text>
<rect x="404.54" y="17.9" width="12.69" height="114.1" fill="url(#g0_3_0)"/>
<rect x="429.92" y="17.9" width="12.69" height="114.1" fill="url(#g0_3_1)"/>
<rect x="455.29" y="17.9" width="12.69" height="114.1" fill="url(#g0_3_2)"/>
<rect x="480.67" y="17.9" width="12.69" height="114.1" fill="url(#g0_3_3)"/>
<line x1="398.2" y1="109.18" x2="499.7" y2="109.18" stroke="#b0b0b0" stroke-width="1.4" stroke-opacity="0.55"/>
<line x1="398.2" y1="86.36" x2="499.7" y2="86.36" stroke="#b0b0b0" stroke-width="1.4" stroke-opacity="0.55"/>
<line x1="398.2" y1="63.54" x2="499.7" y2="63.54" stroke="#b0b0b0" stroke-width="1.4" stroke-opacity="0.55"/>
<line x1="398.2" y1="40.72" x2="499.7" y2="40.72" stroke="#b0b0b0" stroke-width="1.4" stroke-opacity="0.55"/>
<line x1="398.2" y1="17.9" x2="499.7" y2="17.9" stroke="#b0b0b0" stroke-width="1.4" stroke-opacity="0.55"/>
<line x1="410.89" y1="12.2" x2="410.89" y2="132" stroke="#b0b0b0" stroke-width="1.4" stroke-opacity="0.55"/>
<line x1="436.26" y1="12.2" x2="436.26" y2="132" stroke="#b0b0b0" stroke-width="1.4" stroke-opacity="0.55"/>
<line x1="461.64" y1="12.2" x2="461.64" y2="132" stroke="#b0b0b0" stroke-width="1.4" stroke-opacity="0.55"/>
<line x1="487.01" y1="12.2" x2="487.01" y2="132" stroke="#b0b0b0" stroke-width="1.4" stroke-opacity="0.55"/>
<rect x="398.2" y="12.2" width="101.5" height="119.8" fill="none" stroke="#444444" stroke-width="1.1"/>
<line x1="395.3" y1="132" x2="398.2" y2="132" stroke="#444444" stroke-width="1.1"/>
<text x="391.8" y="135.4" text-anchor="end" class="t" textLength="13.12" lengthAdjust="spacing">0.0</text>
<line x1="395.3" y1="109.18" x2="398.2" y2="109.18" stroke="#444444" stroke-width="1.1"/>
<text x="391.8" y="112.58" text-anchor="end" class="t" textLength="13.12" lengthAdjust="spacing">0.2</text>
<line x1="395.3" y1="86.36" x2="398.2" y2="86.36" stroke="#444444" stroke-width="1.1"/>
<text x="391.8" y="89.76" text-anchor="end" class="t" textLength="13.12" lengthAdjust="spacing">0.4</text>
<line x1="395.3" y1="63.54" x2="398.2" y2="63.54" stroke="#444444" stroke-width="1.1"/>
<text x="391.8" y="66.94" text-anchor="end" class="t" textLength="13.12" lengthAdjust="spacing">0.6</text>
<line x1="395.3" y1="40.72" x2="398.2" y2="40.72" stroke="#444444" stroke-width="1.1"/>
<text x="391.8" y="44.12" text-anchor="end" class="t" textLength="13.12" lengthAdjust="spacing">0.8</text>
<line x1="395.3" y1="17.9" x2="398.2" y2="17.9" stroke="#444444" stroke-width="1.1"/>
<text x="391.8" y="21.3" text-anchor="end" class="t" textLength="13.12" lengthAdjust="spacing">1.0</text>
<line x1="410.89" y1="132" x2="410.89" y2="134.9" stroke="#444444" stroke-width="1.1"/>
<text transform="translate(413.79,138.6) rotate(-90)" x="0" y="0" text-anchor="end" class="t" style="font-size:8.6px" textLength="28.88" lengthAdjust="spacing">AU-Gin</text>
<line x1="436.26" y1="132" x2="436.26" y2="134.9" stroke="#444444" stroke-width="1.1"/>
<text transform="translate(439.16,138.6) rotate(-90)" x="0" y="0" text-anchor="end" class="t" style="font-size:8.6px" textLength="32.66" lengthAdjust="spacing">AU-How</text>
<line x1="461.64" y1="132" x2="461.64" y2="134.9" stroke="#444444" stroke-width="1.1"/>
<text transform="translate(464.54,138.6) rotate(-90)" x="0" y="0" text-anchor="end" class="t" style="font-size:8.6px" textLength="32.34" lengthAdjust="spacing">US-SRM</text>
<line x1="487.01" y1="132" x2="487.01" y2="134.9" stroke="#444444" stroke-width="1.1"/>
<text transform="translate(489.91,138.6) rotate(-90)" x="0" y="0" text-anchor="end" class="t" style="font-size:8.6px" textLength="27.41" lengthAdjust="spacing">US-Ton</text>
<text x="398.5" y="6.8" class="t" style="font-size:8.6px" textLength="30.87" lengthAdjust="spacing">(d)WSA</text>
<rect x="44.19" y="197.4" width="25.38" height="113.9" fill="url(#g1_0_0)"/>
<rect x="94.94" y="197.4" width="25.38" height="113.9" fill="url(#g1_0_1)"/>
<line x1="31.5" y1="288.52" x2="133" y2="288.52" stroke="#b0b0b0" stroke-width="1.4" stroke-opacity="0.55"/>
<line x1="31.5" y1="265.74" x2="133" y2="265.74" stroke="#b0b0b0" stroke-width="1.4" stroke-opacity="0.55"/>
<line x1="31.5" y1="242.96" x2="133" y2="242.96" stroke="#b0b0b0" stroke-width="1.4" stroke-opacity="0.55"/>
<line x1="31.5" y1="220.18" x2="133" y2="220.18" stroke="#b0b0b0" stroke-width="1.4" stroke-opacity="0.55"/>
<line x1="31.5" y1="197.4" x2="133" y2="197.4" stroke="#b0b0b0" stroke-width="1.4" stroke-opacity="0.55"/>
<line x1="56.88" y1="191.7" x2="56.88" y2="311.3" stroke="#b0b0b0" stroke-width="1.4" stroke-opacity="0.55"/>
<line x1="107.62" y1="191.7" x2="107.62" y2="311.3" stroke="#b0b0b0" stroke-width="1.4" stroke-opacity="0.55"/>
<rect x="31.5" y="191.7" width="101.5" height="119.6" fill="none" stroke="#444444" stroke-width="1.1"/>
<line x1="28.6" y1="311.3" x2="31.5" y2="311.3" stroke="#444444" stroke-width="1.1"/>
<text x="25.1" y="314.7" text-anchor="end" class="t" textLength="13.12" lengthAdjust="spacing">0.0</text>
<line x1="28.6" y1="288.52" x2="31.5" y2="288.52" stroke="#444444" stroke-width="1.1"/>
<text x="25.1" y="291.92" text-anchor="end" class="t" textLength="13.12" lengthAdjust="spacing">0.2</text>
<line x1="28.6" y1="265.74" x2="31.5" y2="265.74" stroke="#444444" stroke-width="1.1"/>
<text x="25.1" y="269.14" text-anchor="end" class="t" textLength="13.12" lengthAdjust="spacing">0.4</text>
<line x1="28.6" y1="242.96" x2="31.5" y2="242.96" stroke="#444444" stroke-width="1.1"/>
<text x="25.1" y="246.36" text-anchor="end" class="t" textLength="13.12" lengthAdjust="spacing">0.6</text>
<line x1="28.6" y1="220.18" x2="31.5" y2="220.18" stroke="#444444" stroke-width="1.1"/>
<text x="25.1" y="223.58" text-anchor="end" class="t" textLength="13.12" lengthAdjust="spacing">0.8</text>
<line x1="28.6" y1="197.4" x2="31.5" y2="197.4" stroke="#444444" stroke-width="1.1"/>
<text x="25.1" y="200.8" text-anchor="end" class="t" textLength="13.12" lengthAdjust="spacing">1.0</text>
<line x1="56.88" y1="311.3" x2="56.88" y2="314.2" stroke="#444444" stroke-width="1.1"/>
<text transform="translate(59.77,317.9) rotate(-90)" x="0" y="0" text-anchor="end" class="t" style="font-size:8.6px" textLength="31.55" lengthAdjust="spacing">AU-Wac</text>
<line x1="107.62" y1="311.3" x2="107.62" y2="314.2" stroke="#444444" stroke-width="1.1"/>
<text transform="translate(110.53,317.9) rotate(-90)" x="0" y="0" text-anchor="end" class="t" style="font-size:8.6px" textLength="28.78" lengthAdjust="spacing">CN-Din</text>
<text x="31.8" y="186.3" class="t" style="font-size:8.6px" textLength="27.13" lengthAdjust="spacing">(e)EBF</text>
<rect x="157.83" y="197.4" width="8.46" height="113.9" fill="url(#g1_1_0)"/>
<rect x="174.75" y="197.4" width="8.46" height="113.9" fill="url(#g1_1_1)"/>
<rect x="191.66" y="197.4" width="8.46" height="113.9" fill="url(#g1_1_2)"/>
<rect x="208.58" y="197.4" width="8.46" height="113.9" fill="url(#g1_1_3)"/>
<rect x="225.5" y="197.4" width="8.46" height="113.9" fill="url(#g1_1_4)"/>
<rect x="242.41" y="197.4" width="8.46" height="113.9" fill="url(#g1_1_5)"/>
<line x1="153.6" y1="288.52" x2="255.1" y2="288.52" stroke="#b0b0b0" stroke-width="1.4" stroke-opacity="0.55"/>
<line x1="153.6" y1="265.74" x2="255.1" y2="265.74" stroke="#b0b0b0" stroke-width="1.4" stroke-opacity="0.55"/>
<line x1="153.6" y1="242.96" x2="255.1" y2="242.96" stroke="#b0b0b0" stroke-width="1.4" stroke-opacity="0.55"/>
<line x1="153.6" y1="220.18" x2="255.1" y2="220.18" stroke="#b0b0b0" stroke-width="1.4" stroke-opacity="0.55"/>
<line x1="153.6" y1="197.4" x2="255.1" y2="197.4" stroke="#b0b0b0" stroke-width="1.4" stroke-opacity="0.55"/>
<line x1="162.06" y1="191.7" x2="162.06" y2="311.3" stroke="#b0b0b0" stroke-width="1.4" stroke-opacity="0.55"/>
<line x1="178.97" y1="191.7" x2="178.97" y2="311.3" stroke="#b0b0b0" stroke-width="1.4" stroke-opacity="0.55"/>
<line x1="195.89" y1="191.7" x2="195.89" y2="311.3" stroke="#b0b0b0" stroke-width="1.4" stroke-opacity="0.55"/>
<line x1="212.81" y1="191.7" x2="212.81" y2="311.3" stroke="#b0b0b0" stroke-width="1.4" stroke-opacity="0.55"/>
<line x1="229.72" y1="191.7" x2="229.72" y2="311.3" stroke="#b0b0b0" stroke-width="1.4" stroke-opacity="0.55"/>
<line x1="246.64" y1="191.7" x2="246.64" y2="311.3" stroke="#b0b0b0" stroke-width="1.4" stroke-opacity="0.55"/>
<rect x="153.6" y="191.7" width="101.5" height="119.6" fill="none" stroke="#444444" stroke-width="1.1"/>
<line x1="150.7" y1="311.3" x2="153.6" y2="311.3" stroke="#444444" stroke-width="1.1"/>
<text x="147.2" y="314.7" text-anchor="end" class="t" textLength="13.12" lengthAdjust="spacing">0.0</text>
<line x1="150.7" y1="288.52" x2="153.6" y2="288.52" stroke="#444444" stroke-width="1.1"/>
<text x="147.2" y="291.92" text-anchor="end" class="t" textLength="13.12" lengthAdjust="spacing">0.2</text>
<line x1="150.7" y1="265.74" x2="153.6" y2="265.74" stroke="#444444" stroke-width="1.1"/>
<text x="147.2" y="269.14" text-anchor="end" class="t" textLength="13.12" lengthAdjust="spacing">0.4</text>
<line x1="150.7" y1="242.96" x2="153.6" y2="242.96" stroke="#444444" stroke-width="1.1"/>
<text x="147.2" y="246.36" text-anchor="end" class="t" textLength="13.12" lengthAdjust="spacing">0.6</text>
<line x1="150.7" y1="220.18" x2="153.6" y2="220.18" stroke="#444444" stroke-width="1.1"/>
<text x="147.2" y="223.58" text-anchor="end" class="t" textLength="13.12" lengthAdjust="spacing">0.8</text>
<line x1="150.7" y1="197.4" x2="153.6" y2="197.4" stroke="#444444" stroke-width="1.1"/>
<text x="147.2" y="200.8" text-anchor="end" class="t" textLength="13.12" lengthAdjust="spacing">1.0</text>
<line x1="162.06" y1="311.3" x2="162.06" y2="314.2" stroke="#444444" stroke-width="1.1"/>
<text transform="translate(164.96,317.9) rotate(-90)" x="0" y="0" text-anchor="end" class="t" style="font-size:8.6px" textLength="29.43" lengthAdjust="spacing">CA-SF1</text>
<line x1="178.97" y1="311.3" x2="178.97" y2="314.2" stroke="#444444" stroke-width="1.1"/>
<text transform="translate(181.88,317.9) rotate(-90)" x="0" y="0" text-anchor="end" class="t" style="font-size:8.6px" textLength="28.71" lengthAdjust="spacing">CA-TP4</text>
<line x1="195.89" y1="311.3" x2="195.89" y2="314.2" stroke="#444444" stroke-width="1.1"/>
<text transform="translate(198.79,317.9) rotate(-90)" x="0" y="0" text-anchor="end" class="t" style="font-size:8.6px" textLength="29.05" lengthAdjust="spacing">CN-Qia</text>
<line x1="212.81" y1="311.3" x2="212.81" y2="314.2" stroke="#444444" stroke-width="1.1"/>
<text transform="translate(215.71,317.9) rotate(-90)" x="0" y="0" text-anchor="end" class="t" style="font-size:8.6px" textLength="26.96" lengthAdjust="spacing">US-Blo</text>
<line x1="229.72" y1="311.3" x2="229.72" y2="314.2" stroke="#444444" stroke-width="1.1"/>
<text transform="translate(232.62,317.9) rotate(-90)" x="0" y="0" text-anchor="end" class="t" style="font-size:8.6px" textLength="31.69" lengthAdjust="spacing">US-Me6</text>
<line x1="246.64" y1="311.3" x2="246.64" y2="314.2" stroke="#444444" stroke-width="1.1"/>
<text transform="translate(249.54,317.9) rotate(-90)" x="0" y="0" text-anchor="end" class="t" style="font-size:8.6px" textLength="31.4" lengthAdjust="spacing">US-NR1</text>
<text x="153.9" y="186.3" class="t" style="font-size:8.6px" textLength="25.47" lengthAdjust="spacing">(f)ENF</text>
<rect x="288.59" y="197.4" width="25.38" height="113.9" fill="url(#g1_2_0)"/>
<rect x="339.34" y="197.4" width="25.38" height="113.9" fill="url(#g1_2_1)"/>
<line x1="275.9" y1="288.52" x2="377.4" y2="288.52" stroke="#b0b0b0" stroke-width="1.4" stroke-opacity="0.55"/>
<line x1="275.9" y1="265.74" x2="377.4" y2="265.74" stroke="#b0b0b0" stroke-width="1.4" stroke-opacity="0.55"/>
<line x1="275.9" y1="242.96" x2="377.4" y2="242.96" stroke="#b0b0b0" stroke-width="1.4" stroke-opacity="0.55"/>
<line x1="275.9" y1="220.18" x2="377.4" y2="220.18" stroke="#b0b0b0" stroke-width="1.4" stroke-opacity="0.55"/>
<line x1="275.9" y1="197.4" x2="377.4" y2="197.4" stroke="#b0b0b0" stroke-width="1.4" stroke-opacity="0.55"/>
<line x1="301.27" y1="191.7" x2="301.27" y2="311.3" stroke="#b0b0b0" stroke-width="1.4" stroke-opacity="0.55"/>
<line x1="352.02" y1="191.7" x2="352.02" y2="311.3" stroke="#b0b0b0" stroke-width="1.4" stroke-opacity="0.55"/>
<rect x="275.9" y="191.7" width="101.5" height="119.6" fill="none" stroke="#444444" stroke-width="1.1"/>
<line x1="273" y1="311.3" x2="275.9" y2="311.3" stroke="#444444" stroke-width="1.1"/>
<text x="269.5" y="314.7" text-anchor="end" class="t" textLength="13.12" lengthAdjust="spacing">0.0</text>
<line x1="273" y1="288.52" x2="275.9" y2="288.52" stroke="#444444" stroke-width="1.1"/>
<text x="269.5" y="291.92" text-anchor="end" class="t" textLength="13.12" lengthAdjust="spacing">0.2</text>
<line x1="273" y1="265.74" x2="275.9" y2="265.74" stroke="#444444" stroke-width="1.1"/>
<text x="269.5" y="269.14" text-anchor="end" class="t" textLength="13.12" lengthAdjust="spacing">0.4</text>
<line x1="273" y1="242.96" x2="275.9" y2="242.96" stroke="#444444" stroke-width="1.1"/>
<text x="269.5" y="246.36" text-anchor="end" class="t" textLength="13.12" lengthAdjust="spacing">0.6</text>
<line x1="273" y1="220.18" x2="275.9" y2="220.18" stroke="#444444" stroke-width="1.1"/>
<text x="269.5" y="223.58" text-anchor="end" class="t" textLength="13.12" lengthAdjust="spacing">0.8</text>
<line x1="273" y1="197.4" x2="275.9" y2="197.4" stroke="#444444" stroke-width="1.1"/>
<text x="269.5" y="200.8" text-anchor="end" class="t" textLength="13.12" lengthAdjust="spacing">1.0</text>
<line x1="301.27" y1="311.3" x2="301.27" y2="314.2" stroke="#444444" stroke-width="1.1"/>
<text transform="translate(304.17,317.9) rotate(-90)" x="0" y="0" text-anchor="end" class="t" style="font-size:8.6px" textLength="29.81" lengthAdjust="spacing">CA-TPD</text>
<line x1="352.02" y1="311.3" x2="352.02" y2="314.2" stroke="#444444" stroke-width="1.1"/>
<text transform="translate(354.92,317.9) rotate(-90)" x="0" y="0" text-anchor="end" class="t" style="font-size:8.6px" textLength="28.18" lengthAdjust="spacing">PA-SPn</text>
<text x="276.2" y="186.3" class="t" style="font-size:8.6px" textLength="28.43" lengthAdjust="spacing">(g)DBF</text>
<rect x="410.89" y="197.4" width="25.38" height="113.9" fill="url(#g1_3_0)"/>
<rect x="461.64" y="197.4" width="25.38" height="113.9" fill="url(#g1_3_1)"/>
<line x1="398.2" y1="288.52" x2="499.7" y2="288.52" stroke="#b0b0b0" stroke-width="1.4" stroke-opacity="0.55"/>
<line x1="398.2" y1="265.74" x2="499.7" y2="265.74" stroke="#b0b0b0" stroke-width="1.4" stroke-opacity="0.55"/>
<line x1="398.2" y1="242.96" x2="499.7" y2="242.96" stroke="#b0b0b0" stroke-width="1.4" stroke-opacity="0.55"/>
<line x1="398.2" y1="220.18" x2="499.7" y2="220.18" stroke="#b0b0b0" stroke-width="1.4" stroke-opacity="0.55"/>
<line x1="398.2" y1="197.4" x2="499.7" y2="197.4" stroke="#b0b0b0" stroke-width="1.4" stroke-opacity="0.55"/>
<line x1="423.57" y1="191.7" x2="423.57" y2="311.3" stroke="#b0b0b0" stroke-width="1.4" stroke-opacity="0.55"/>
<line x1="474.32" y1="191.7" x2="474.32" y2="311.3" stroke="#b0b0b0" stroke-width="1.4" stroke-opacity="0.55"/>
<rect x="398.2" y="191.7" width="101.5" height="119.6" fill="none" stroke="#444444" stroke-width="1.1"/>
<line x1="395.3" y1="311.3" x2="398.2" y2="311.3" stroke="#444444" stroke-width="1.1"/>
<text x="391.8" y="314.7" text-anchor="end" class="t" textLength="13.12" lengthAdjust="spacing">0.0</text>
<line x1="395.3" y1="288.52" x2="398.2" y2="288.52" stroke="#444444" stroke-width="1.1"/>
<text x="391.8" y="291.92" text-anchor="end" class="t" textLength="13.12" lengthAdjust="spacing">0.2</text>
<line x1="395.3" y1="265.74" x2="398.2" y2="265.74" stroke="#444444" stroke-width="1.1"/>
<text x="391.8" y="269.14" text-anchor="end" class="t" textLength="13.12" lengthAdjust="spacing">0.4</text>
<line x1="395.3" y1="242.96" x2="398.2" y2="242.96" stroke="#444444" stroke-width="1.1"/>
<text x="391.8" y="246.36" text-anchor="end" class="t" textLength="13.12" lengthAdjust="spacing">0.6</text>
<line x1="395.3" y1="220.18" x2="398.2" y2="220.18" stroke="#444444" stroke-width="1.1"/>
<text x="391.8" y="223.58" text-anchor="end" class="t" textLength="13.12" lengthAdjust="spacing">0.8</text>
<line x1="395.3" y1="197.4" x2="398.2" y2="197.4" stroke="#444444" stroke-width="1.1"/>
<text x="391.8" y="200.8" text-anchor="end" class="t" textLength="13.12" lengthAdjust="spacing">1.0</text>
<line x1="423.57" y1="311.3" x2="423.57" y2="314.2" stroke="#444444" stroke-width="1.1"/>
<text transform="translate(426.47,317.9) rotate(-90)" x="0" y="0" text-anchor="end" class="t" style="font-size:8.6px" textLength="29.39" lengthAdjust="spacing">AU-Fog</text>
<line x1="474.32" y1="311.3" x2="474.32" y2="314.2" stroke="#444444" stroke-width="1.1"/>
<text transform="translate(477.22,317.9) rotate(-90)" x="0" y="0" text-anchor="end" class="t" style="font-size:8.6px" textLength="31.42" lengthAdjust="spacing">CN-Ha2</text>
<text x="398.5" y="186.3" class="t" style="font-size:8.6px" textLength="30.08" lengthAdjust="spacing">(h)WET</text>
<text transform="translate(7.6,71.7) rotate(-90)" x="0" y="0" text-anchor="middle" class="t" style="font-size:8.8px" textLength="100.12" lengthAdjust="spacing">Permutation importance</text>
<text transform="translate(7.6,250.9) rotate(-90)" x="0" y="0" text-anchor="middle" class="t" style="font-size:8.8px" textLength="100.12" lengthAdjust="spacing">Permutation importance</text>
<rect x="508.5" y="44.9" width="64.8" height="245.7" rx="2" ry="2" fill="#fff" stroke="#d6d6d6" stroke-width="0.8"/>
<rect x="511.5" y="48.2" width="16.8" height="5.6" fill="#fef4fe"/>
<text x="534.8" y="53.9" class="t" style="font-size:8.2px" textLength="17.5" lengthAdjust="spacing">CO2</text>
<rect x="511.5" y="60.41" width="16.8" height="5.6" fill="#f4b8f4"/>
<text x="534.8" y="66.11" class="t" style="font-size:8.2px" textLength="16.25" lengthAdjust="spacing">DAY</text>
<rect x="511.5" y="72.62" width="16.8" height="5.6" fill="#ea82ee"/>
<text x="534.8" y="78.32" class="t" style="font-size:8.2px" textLength="17.43" lengthAdjust="spacing">DOY</text>
<rect x="511.5" y="84.83" width="16.8" height="5.6" fill="#9b30f0"/>
<text x="534.8" y="90.53" class="t" style="font-size:8.2px" textLength="6.39" lengthAdjust="spacing">G</text>
<rect x="511.5" y="97.04" width="16.8" height="5.6" fill="#dc00ff"/>
<text x="534.8" y="102.74" class="t" style="font-size:8.2px" textLength="16.34" lengthAdjust="spacing">GPP</text>
<rect x="511.5" y="109.25" width="16.8" height="5.6" fill="#fa0372"/>
<text x="534.8" y="114.95" class="t" style="font-size:8.2px" textLength="6.2" lengthAdjust="spacing">H</text>
<rect x="511.5" y="121.46" width="16.8" height="5.6" fill="#ff2200"/>
<text x="534.8" y="127.16" class="t" style="font-size:8.2px" textLength="9.81" lengthAdjust="spacing">LE</text>
<rect x="511.5" y="133.67" width="16.8" height="5.6" fill="#ffa800"/>
<text x="534.8" y="139.37" class="t" style="font-size:8.2px" textLength="24.73" lengthAdjust="spacing">LW_IN</text>
<rect x="511.5" y="145.88" width="16.8" height="5.6" fill="#ffd800"/>
<text x="534.8" y="151.58" class="t" style="font-size:8.2px" textLength="16.6" lengthAdjust="spacing">NEE</text>
<rect x="511.5" y="158.09" width="16.8" height="5.6" fill="#f0f000"/>
<text x="534.8" y="163.79" class="t" style="font-size:8.2px" textLength="33.82" lengthAdjust="spacing">NETRAD</text>
<rect x="511.5" y="170.3" width="16.8" height="5.6" fill="#c8fc38"/>
<text x="534.8" y="176" class="t" style="font-size:8.2px" textLength="4.98" lengthAdjust="spacing">P</text>
<rect x="511.5" y="182.51" width="16.8" height="5.6" fill="#90f818"/>
<text x="534.8" y="188.21" class="t" style="font-size:8.2px" textLength="10.09" lengthAdjust="spacing">PA</text>
<rect x="511.5" y="194.72" width="16.8" height="5.6" fill="#60c818"/>
<text x="534.8" y="200.42" class="t" style="font-size:8.2px" textLength="21.05" lengthAdjust="spacing">PPFD</text>
<rect x="511.5" y="206.93" width="16.8" height="5.6" fill="#04fa5c"/>
<text x="534.8" y="212.63" class="t" style="font-size:8.2px" textLength="23.2" lengthAdjust="spacing">RECO</text>
<rect x="511.5" y="219.14" width="16.8" height="5.6" fill="#20f0c0"/>
<text x="534.8" y="224.84" class="t" style="font-size:8.2px" textLength="26.12" lengthAdjust="spacing">SW_IN</text>
<rect x="511.5" y="231.35" width="16.8" height="5.6" fill="#10e0f8"/>
<text x="534.8" y="237.05" class="t" style="font-size:8.2px" textLength="35.09" lengthAdjust="spacing">SW_OUT</text>
<rect x="511.5" y="243.56" width="16.8" height="5.6" fill="#1080f8"/>
<text x="534.8" y="249.26" class="t" style="font-size:8.2px" textLength="10.04" lengthAdjust="spacing">TA</text>
<rect x="511.5" y="255.77" width="16.8" height="5.6" fill="#0410c4"/>
<text x="534.8" y="261.47" class="t" style="font-size:8.2px" textLength="10.28" lengthAdjust="spacing">TS</text>
<rect x="511.5" y="267.98" width="16.8" height="5.6" fill="#006010"/>
<text x="534.8" y="273.68" class="t" style="font-size:8.2px" textLength="16.97" lengthAdjust="spacing">VPD</text>
<rect x="511.5" y="280.19" width="16.8" height="5.6" fill="#000080"/>
<text x="534.8" y="285.89" class="t" style="font-size:8.2px" textLength="13.39" lengthAdjust="spacing">WS</text>
</svg>
</body></html>
